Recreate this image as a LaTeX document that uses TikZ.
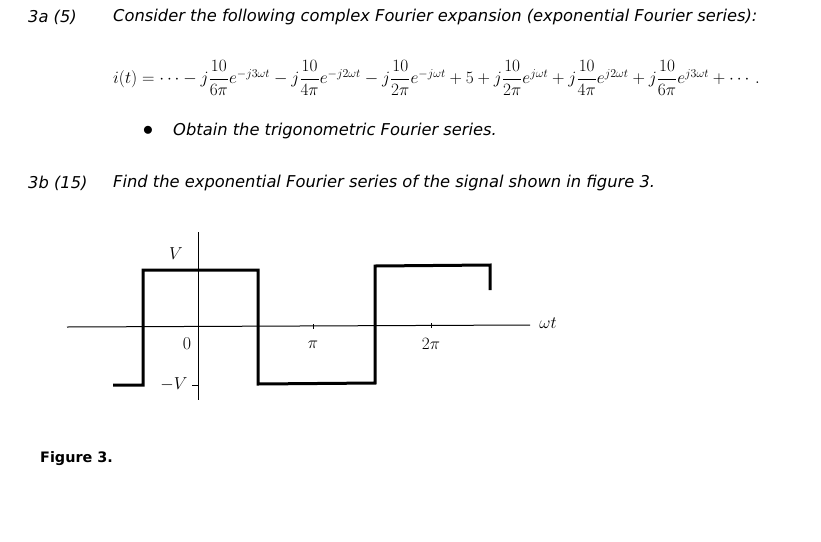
\documentclass[tikz,border=0pt]{standalone}
\usepackage{amsmath}
\usepackage{fontspec}
\newfontfamily\tf{DejaVu Sans}
\begin{document}
\begin{tikzpicture}[x=1pt,y=-1pt,
  txt/.style={anchor=west,inner sep=0pt,font=\tf\itshape\fontsize{16.3}{18}\selectfont},
  wave/.style={line width=3pt,line join=miter},
  ax/.style={line width=1pt}]
\useasboundingbox (0,0) rectangle (821,541);
\node[txt] (q3a) at (28,17) {3a (5)};
\node[txt] (t1) at (113,17) {Consider the following complex Fourier expansion (exponential Fourier series):};
\node[anchor=west,inner sep=0pt,font=\fontsize{17.2}{19}\selectfont] (eq) at (113,78) {$i(t) = \cdots - j\dfrac{10}{6\pi}e^{-j3\omega t} - j\dfrac{10}{4\pi}e^{-j2\omega t} - j\dfrac{10}{2\pi}e^{-j\omega t} + 5 + j\dfrac{10}{2\pi}e^{j\omega t} + j\dfrac{10}{4\pi}e^{j2\omega t} + j\dfrac{10}{6\pi}e^{j3\omega t} + \cdots.$};
\node[inner sep=0pt,font=\huge] (bul) at (148,131) {$\bullet$};
\node[txt] (t2) at (173,131) {Obtain the trigonometric Fourier series.};
\node[txt] (q3b) at (28,183) {3b (15)};
\node[txt] (t3) at (113,183) {Find the exponential Fourier series of the signal shown in figure 3.};
\node[anchor=west,inner sep=0pt,font=\tf\bfseries\fontsize{14.4}{17}\selectfont] (fig) at (40,459) {Figure 3.};
% axes
\coordinate (hl) at (67,327); \coordinate (hr) at (530,325);
\coordinate (vt) at (198,232); \coordinate (vb) at (198,400);
\draw[ax] (hl) -- (hr);
\draw[ax] (vt) -- (vb);
\draw[ax] (313,324) -- (313,329);
\draw[ax] (431,323) -- (431,328);
\draw[ax] (192,385) -- (198,385);
\node[font=\fontsize{16}{18}\selectfont] (wt) at (548,323) {$\omega t$};
\node[font=\fontsize{18}{20}\selectfont] (V) at (176,254) {$V$};
\node[font=\fontsize{18}{20}\selectfont] (mV) at (174,384) {$-V$};
\node[font=\fontsize{18}{20}\selectfont] (z) at (187,344) {0};
\node[font=\fontsize{18}{20}\selectfont] (pi) at (313,345) {$\pi$};
\node[font=\fontsize{18}{20}\selectfont] (tpi) at (431,344) {$2\pi$};
\draw[wave] (113,385) -- (143,385) -- (143,270) -- (258,270) -- (258,384) -- (375,383) -- (375,266) -- (490,265) -- (490,290);
\end{tikzpicture}
\end{document}
